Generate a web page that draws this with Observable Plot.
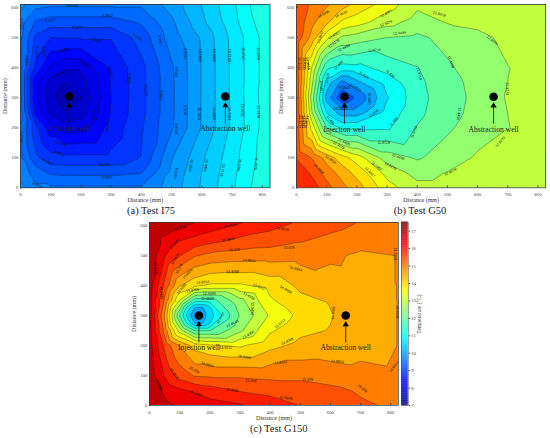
<!DOCTYPE html>
<html>
<head>
<meta charset="utf-8">
<script src="https://cdn.jsdelivr.net/npm/d3@7"></script>
<script src="https://cdn.jsdelivr.net/npm/@observablehq/plot@0.6"></script>
<style>
html,body{margin:0;padding:0;background:#fff;}
#page{position:relative;width:550px;height:438px;overflow:hidden;font-family:"Liberation Serif",serif;}
#page svg{position:absolute;background:transparent;}
.cap{position:absolute;font-size:10.5px;color:#222;transform:translateX(-50%);white-space:nowrap;line-height:12px;}
</style>
</head>
<body>
<div id="page"></div>
<script>
// Sensor grid (mm)
const gridX = [0,50,100,150,200,300,400,500,600,700,826];
const gridY = [610,550,500,400,350,300,250,200,100,50,0];

// Temperatures (deg C), one row per gridY value
const tempA = [
10.00,9.75,9.70,9.70,9.70,9.70,9.70,10.03,10.46,10.90,11.60,
9.75,9.35,9.25,9.25,9.25,9.25,9.42,9.86,10.38,10.86,11.50,
9.70,9.06,8.86,8.88,8.88,8.88,9.24,9.78,10.22,10.78,11.42,
9.70,8.80,8.28,8.12,8.12,8.64,9.05,9.62,10.20,10.76,11.43,
9.75,8.40,7.97,7.80,7.95,8.62,9.05,9.60,10.20,10.76,11.43,
9.75,8.40,7.90,7.65,7.80,8.60,9.05,9.60,10.20,10.76,11.45,
9.75,8.55,8.00,7.83,7.95,8.62,9.05,9.60,10.20,10.76,11.43,
9.65,8.95,8.45,8.21,8.25,8.70,9.10,9.62,10.20,10.76,11.43,
9.72,9.20,8.95,8.93,8.93,8.93,9.14,9.90,10.40,10.86,11.45,
9.80,9.55,9.35,9.33,9.33,9.33,9.38,9.98,10.45,10.90,11.50,
10.00,9.70,9.70,9.70,9.70,9.70,9.70,10.03,10.48,10.93,11.55];
const tempB = [
15.75,15.2,14.9,14.57,14.22,13.65,13.03,13.02,13.02,13.05,13.1,
15.7,14.95,14.45,13.8,13.6,13.1,12.72,12.95,13.0,13.05,13.1,
15.65,14.7,13.55,12.85,12.7,12.45,12.35,12.6,12.85,13.0,13.1,
15.7,13.4,11.6,11.3,11.35,11.68,11.95,12.38,12.68,12.92,13.05,
15.7,13.1,10.8,9.9,10.4,11.2,11.85,12.28,12.6,12.93,13.05,
15.75,12.75,10.35,9.2,9.66,10.98,11.8,12.25,12.57,12.97,13.2,
15.7,13.0,11.0,10.3,10.3,11.2,11.85,12.28,12.6,12.93,13.05,
15.6,13.75,11.95,11.4,11.4,11.42,12.0,12.38,12.68,12.92,13.05,
15.75,15.3,14.65,14.1,13.65,12.7,12.4,12.65,13.0,13.05,13.1,
16.3,15.7,15.1,14.65,14.2,13.25,12.75,12.95,13.05,13.1,13.15,
16.7,16.1,15.5,15.0,14.6,13.6,13.1,13.1,13.1,13.12,13.15];
const tempC = [
17.3,17.2,17.0,16.85,16.7,16.39,16.1,15.8,15.6,15.35,15.1,
17.2,16.7,16.37,16.2,16.03,15.75,15.6,15.42,15.23,15.05,14.95,
17.2,16.4,15.9,15.42,15.25,15.15,15.12,15.08,14.97,14.82,14.90,
17.1,15.75,14.45,14.05,13.85,13.85,14.1,14.5,14.7,14.75,14.90,
17.0,15.3,13.4,11.7,11.7,12.8,13.85,14.3,14.45,14.7,14.90,
17.05,14.85,11.95,10.1,10.75,12.5,13.5,14.05,14.37,14.72,14.90,
17.0,15.2,13.2,11.95,11.95,12.85,13.85,14.28,14.43,14.72,14.90,
17.0,15.75,14.85,14.2,14.0,13.85,14.25,14.55,14.6,14.72,14.90,
17.1,16.3,15.65,15.33,15.3,15.3,15.25,15.25,15.15,15.05,14.97,
17.2,16.75,16.45,16.27,16.1,15.83,15.7,15.62,15.5,15.32,15.15,
17.3,16.95,16.78,16.65,16.55,16.4,16.15,15.86,15.65,15.45,15.3];
// Extra readings around the injection well in test G150: [x, y, temperature]
const extraC = [[125,300,10.85],[175,300,10.25],[150,325,10.45],[150,275,10.5],[200,325,10.9],[200,275,10.95],[125,325,11.3],[125,275,11.4],[175,325,10.45],[175,275,10.5],[250,300,11.7]];

// Contour levels
const levelsA = [7.5456,7.8093,8.0730,8.3367,8.6005,8.8642,9.1279,9.3917,9.6554,9.9191,10.1829,10.4466,10.7103,10.9741,11.2378];
const levelsB = [9.1063,9.5842,10.0621,10.5401,11.018,11.496,11.9719,12.4499,12.9279,13.4057,13.8837,14.3616,14.8395,15.3175,15.7954];
const levelsC = [10.0362,10.5218,11.0074,11.493,11.9787,12.4643,12.9499,13.4356,13.9212,14.4068,14.8924,15.378,15.8636,16.3493,16.8349];

// Contour labels: [text, x, y, angle]
const labelsA = [
["9.6554",172,607,0],["9.6554",514,386,90],["9.6554",514,197,90],["9.6554",3,170,90],["9.6554",3,546,90],["9.6554",56,9,20],
["9.3917",100,558,-10],["9.3917",288,571,0],["9.3917",462,491,80],["9.3917",465,308,90],["9.3917",286,33,0],["9.3917",18,425,90],
["9.1279",189,533,0],["9.1279",387,502,40],["9.1279",417,325,90],["9.1279",277,75,0],["9.1279",89,86,30],["9.1279",54,452,90],
["8.8642",250,491,10],["8.8642",360,364,90],["8.8642",128,114,20],["8.8642",78,452,80],
["8.6005",144,458,-10],["8.6005",299,386,80],["8.6005",288,203,100],["8.6005",134,147,20],
["8.3367",216,411,40],["8.3367",244,242,100],["8.0730",134,380,-20],
["9.9191",544,447,90],["9.9191",544,258,90],["9.9191",514,48,100],
["10.1829",594,441,90],["10.1829",592,247,90],["10.1829",564,75,100],
["10.4466",641,441,90],["10.4466",641,247,90],["10.4466",614,75,100],
["10.7103",691,441,90],["10.7103",689,247,90],["10.7103",669,59,100],
["10.9741",737,447,90],["10.9741",735,258,90],["10.9741",724,75,100],
["11.2378",785,447,90],["11.2378",785,253,90],["11.2378",779,81,95]];
const labelsB = [
["14.8395",90,578,-30],["14.8395",24,414,90],["14.8395",22,220,90],
["14.3616",148,578,-25],["14.3616",38,414,80],["14.3616",33,220,100],["14.3616",113,94,35],
["13.8837",79,502,-70],["13.8837",243,53,45],
["13.4057",297,580,-30],["13.4057",124,508,-30],["13.4057",265,73,40],
["12.9279",297,547,-20],["12.9279",124,480,-35],["12.9279",140,142,30],["12.9279",311,73,30],["12.9279",473,578,15],["12.9279",648,491,40],["12.9279",698,330,90],["12.9279",675,153,-50],["12.9279",510,53,-25],
["12.4499",341,515,-5],["12.4499",157,466,-25],["12.4499",157,153,25],["12.4499",337,103,20],["12.4499",512,419,70],["12.4499",538,247,100],
["11.9719",258,458,-5],["11.9719",407,380,75],["11.9719",289,151,0],["11.9719",389,186,-70],
["11.496",140,408,-50],["11.496",311,380,45],["11.496",322,220,-50],["11.496",113,225,55],
["11.018",223,375,35],["11.018",256,247,-40],["11.018",102,364,-80],
["10.5401",240,297,90],["10.5401",82,336,90],
["10.0621",195,334,30],["10.0621",146,264,0],["9.5842",159,334,0],
["15.3175",10,414,90],["15.3175",11,220,90],["15.7954",74,64,45]];
const labelsC = [
["16.8349",104,591,-15],["16.8349",19,456,90],["16.8349",32,68,70],
["16.3493",267,600,-5],["16.3493",82,539,-50],["16.3493",40,376,85],["16.3493",154,41,20],
["15.8636",261,553,-10],["15.8636",441,589,10],["15.8636",85,489,-60],["15.8636",82,106,55],["15.8636",275,51,10],["15.8636",452,25,5],
["15.378",281,519,-5],["15.378",463,525,0],["15.378",98,456,-60],["15.378",148,118,30],["15.378",336,82,5],["15.378",524,84,0],["15.378",706,57,40],
["14.8924",330,483,5],["14.8924",485,456,15],["14.8924",126,439,-45],["14.8924",192,137,15],["14.8924",435,143,-5],["14.8924",623,147,5],["14.8924",816,505,90],["14.8924",811,129,-50],["14.8924",822,312,90],
["14.4068",275,447,0],["14.4068",452,387,30],["14.4068",106,389,-50],["14.4068",314,162,10],["14.4068",457,214,-25],["14.4068",609,308,-85],
["13.9212",176,411,-5],["13.9212",364,395,20],["13.9212",253,193,0],["13.9212",433,273,-40],
["13.4356",143,384,-10],["13.4356",330,365,30],["13.4356",328,236,-30],
["12.9499",198,372,0],["12.9499",341,323,90],["12.4643",192,356,0],["12.4643",275,273,-25],["11.9787",236,292,-60]];

// Wells: injection and abstraction [x, y, label]
const wellsA = [[161,304,"Injection well"],[678,304,"Abstraction well"]];
const wellsB = [[159,303,"Injection well"],[653,303,"Abstraction well"]];
const wellsC = [[164,300,"Injection well"],[651,300,"Abstraction well"]];

const captions = ["(a) Test I75","(b) Test G50","(c) Test G150"];
const axisLabel = "Distance (mm)";
const colorbarLabel = "Temperature (°C)";
const colorbarTicks = [7,8,9,10,11,12,13,14,15,16,17];
const ticksX = [0,100,200,300,400,500,600,700,800];
const ticksY = [0,100,200,300,400,500,600];

const clamp01 = v => Math.max(0, Math.min(1, v));
const jet = t => {
  const c = k => Math.round(255 * clamp01(1.5 - Math.abs(4 * t - k)));
  return `rgb(${c(3)},${c(2)},${c(1)})`;
};
const colorScale = {type:"linear", domain:[7,17.5], interpolate:jet};
const serif = "Liberation Serif, serif";

function panel(temps, extra, levels, labels, wells, left, top, fw, fh) {
  const points = gridY.flatMap((y,j) => gridX.map((x,i) => ({x, y, v: temps[j*gridX.length+i]})))
    .concat(extra.map(([x,y,v]) => ({x,y,v})));
  const ml = 20, mr = 6, mt = 5, mb = 30;
  const plot = Plot.plot({
    width: fw + ml + mr, height: fh + mt + mb,
    marginLeft: ml, marginRight: mr, marginTop: mt, marginBottom: mb,
    x: {domain:[0,826]}, y: {domain:[0,610]},
    color: colorScale,
    marks: [
      Plot.frame({fill: jet((levels[0]-7)/10.5), stroke:"none"}),
      Plot.contour(points, {x:"x", y:"y", value:"v", fill:"value", stroke:"#111", strokeWidth:0.35,
        thresholds: levels, interpolate:"barycentric", pixelSize:1, smooth:true, clip:true}),
      Plot.text(labels, {x:d=>d[1], y:d=>d[2], text:d=>d[0], rotate:d=>d[3],
        fontSize:3.6, fontFamily:"Liberation Sans, sans-serif", fill:"#111"}),
      Plot.link(wells, {x1:d=>d[0], x2:d=>d[0], y1:d=>d[1]-90, y2:d=>d[1]-30, stroke:"#111", strokeWidth:0.8}),
      Plot.dot(wells, {x:d=>d[0], y:d=>d[1]-30, symbol:"triangle", r:2.3, fill:"#000", stroke:"none"}),
      Plot.dot(wells, {x:d=>d[0], y:d=>d[1], r:4.3, fill:"#000", stroke:"none"}),
      Plot.text(wells, {x:d=>d[0], y:d=>d[1]-108, text:d=>d[2], fontSize:7.6, fontFamily:serif, fill:"#222"}),
      Plot.frame({stroke:"#444", strokeWidth:0.6}),
      Plot.axisX({ticks:ticksX, tickSize:-2, tickPadding:7, fontSize:4.8, fontFamily:serif, color:"#444", label:null}),
      Plot.axisY({ticks:ticksY, tickSize:-2, tickPadding:4, fontSize:4.8, fontFamily:serif, color:"#444", label:null}),
      Plot.axisX({ticks:[], tickSize:0, fontSize:6, fontFamily:serif, color:"#333",
        label:axisLabel, labelAnchor:"center", labelOffset:14.5, labelArrow:"none"}),
      Plot.axisY({ticks:[], tickSize:0, fontSize:6, fontFamily:serif, color:"#333",
        label:axisLabel, labelAnchor:"center", labelOffset:18, labelArrow:"none"})
    ]
  });
  plot.style.left = (left - ml) + "px";
  plot.style.top = (top - mt) + "px";
  return plot;
}

const page = document.getElementById("page");
page.append(
  panel(tempA, [], levelsA, labelsA, wellsA, 19.7, 4.3, 249.6, 183.4),
  panel(tempB, [], levelsB, labelsB, wellsB, 296, 4.3, 249.3, 183.4),
  panel(tempC, extraC, levelsC, labelsC, wellsC, 148.7, 222, 249, 183)
);

// Colour bar
const rampStops = d3.range(7, 17.5, 0.04);
const bar = Plot.plot({
  width: 36, height: 193,
  marginLeft: 5, marginRight: 24.3, marginTop: 5, marginBottom: 5,
  y: {domain:[7,17.5]},
  color: colorScale,
  marks: [
    Plot.rectY(rampStops, {y1:d=>d, y2:d=>d+0.045, fill:d=>d}),
    Plot.frame({stroke:"#444", strokeWidth:0.6}),
    Plot.axisY({anchor:"right", ticks:colorbarTicks, tickSize:1.5, tickPadding:1.5, fontSize:4.8, fontFamily:serif, color:"#444", label:null}),
    Plot.axisY({anchor:"right", ticks:[], tickSize:0, fontSize:5.6, fontFamily:serif, color:"#333",
      label:colorbarLabel, labelAnchor:"center", labelOffset:13, labelArrow:"none"})
  ]
});
bar.style.left = (401 - 5) + "px";
bar.style.top = (222 - 5) + "px";
page.append(bar);

// Captions
[[captions[0],151,205],[captions[1],420,205],[captions[2],278.7,423]].forEach(([t,x,y]) => {
  const d = document.createElement("div");
  d.className = "cap";
  d.textContent = t;
  d.style.left = x + "px";
  d.style.top = y + "px";
  page.append(d);
});
</script>
</body>
</html>
